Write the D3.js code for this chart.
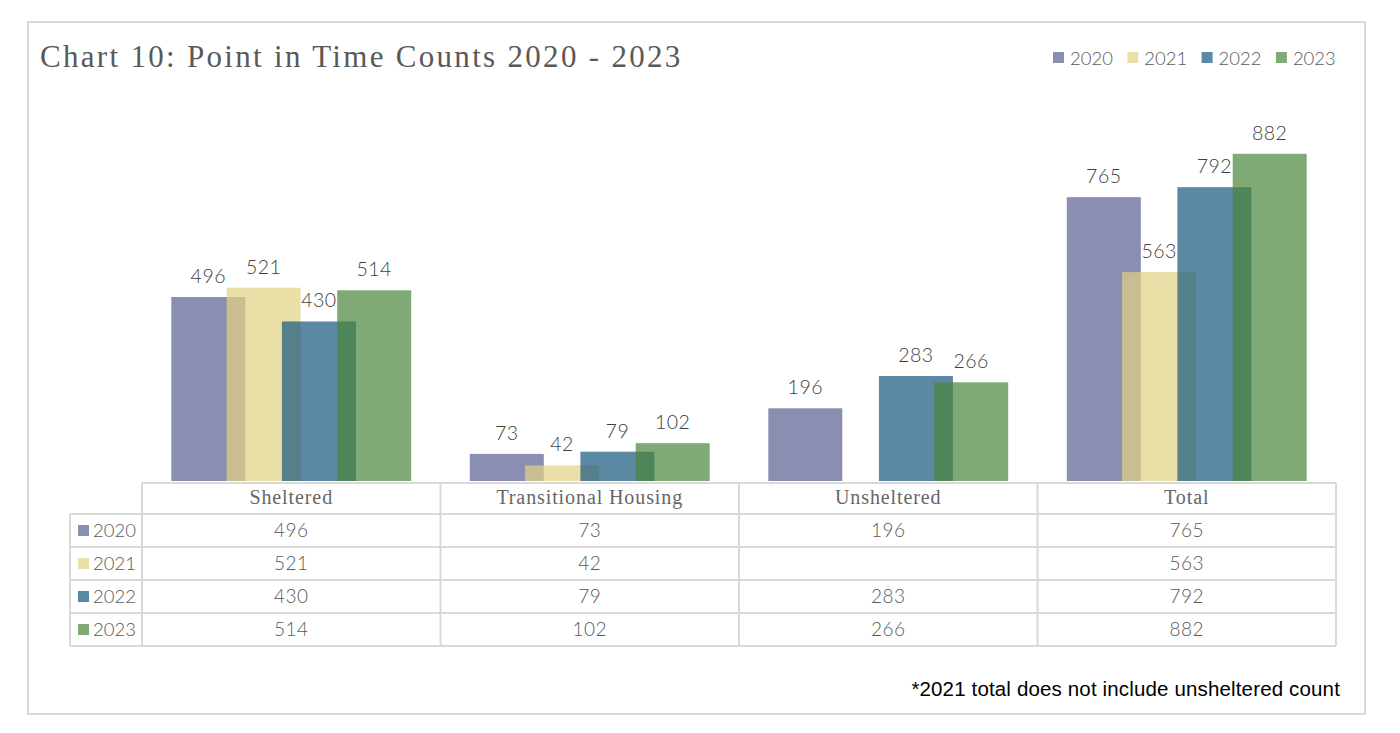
<!DOCTYPE html>
<html>
<head>
<meta charset="utf-8">
<script src="https://cdn.jsdelivr.net/npm/d3@7"></script>
<style>
  body { margin: 0; background: #fff; }
  svg { display: block; }
</style>
</head>
<body>
<div id="chart"></div>
<script>
// Point in Time Counts 2020 - 2023

const categories = ['Sheltered', 'Transitional Housing', 'Unsheltered', 'Total'];
const years = ['2020', '2021', '2022', '2023'];
const values2020 = [496, 73, 196, 765];
const values2021 = [521, 42, null, 563];
const values2022 = [430, 79, 283, 792];
const values2023 = [514, 102, 266, 882];
const yTicks = [0, 1000];

// colours before 30% transparency
const colors = ['#585f91', '#e2d183', '#15557c', '#48863a'];

const series = [values2020, values2021, values2022, values2023].map((vals, i) => ({
    year: years[i],
    color: colors[i],
    values: vals
}));

const W = 1400, H = 733;
const svg = d3.select('#chart').append('svg')
    .attr('width', W)
    .attr('height', H);

// cadre
svg.append('rect')
    .attr('x', 28).attr('y', 22)
    .attr('width', 1337).attr('height', 692)
    .attr('fill', '#fff')
    .attr('stroke', '#d9d9d9')
    .attr('stroke-width', 2);

// titre
svg.append('text')
    .attr('x', 40).attr('y', 67)
    .style('font-family', '"Liberation Serif", serif')
    .style('font-size', '31px')
    .style('letter-spacing', '2.3px')
    .style('fill', '#595959')
    .text('Chart 10: Point in Time Counts 2020 - 2023');

// échelles
const tableLeft = 142, tableRight = 1336;
const x = d3.scaleBand()
    .domain(categories)
    .range([tableLeft, tableRight])
    .paddingInner(0).paddingOuter(0);

const y = d3.scaleLinear()
    .domain(d3.extent(yTicks))
    .range([481, 110]);

const barW = 74, step = 55.3;
const xs = d3.scaleLinear()
    .domain([0, years.length - 1])
    .range([-1.5 * step, 1.5 * step]);

const numFont = 'Lato, "Open Sans", sans-serif';

// barres
series.forEach((s, i) => {
    const g = svg.append('g');
    const pts = categories.map((c, j) => ({ c, v: s.values[j] })).filter(d => d.v != null);
    g.selectAll('rect')
        .data(pts)
        .join('rect')
        .attr('x', d => x(d.c) + x.bandwidth() / 2 + xs(i) - barW / 2)
        .attr('width', barW)
        .attr('y', d => y(d.v))
        .attr('height', d => y(0) - y(d.v))
        .attr('fill', s.color)
        .attr('fill-opacity', 0.7);
});

// étiquettes
series.forEach((s, i) => {
    const pts = categories.map((c, j) => ({ c, v: s.values[j] })).filter(d => d.v != null);
    svg.append('g').selectAll('text')
        .data(pts)
        .join('text')
        .attr('x', d => x(d.c) + x.bandwidth() / 2 + xs(i))
        .attr('y', d => y(d.v) - 14)
        .attr('text-anchor', 'middle')
        .style('font-family', numFont)
        .style('font-size', '19.5px')
        .style('font-weight', 300)
        .style('letter-spacing', '0.5px')
        .style('fill', '#404040')
        .text(d => d.v);
});

// légende
const legend = svg.append('g').attr('transform', 'translate(1053,58)');
const legStep = 74.3;
years.forEach((yr, i) => {
    legend.append('rect')
        .attr('x', i * legStep).attr('y', -6)
        .attr('width', 11).attr('height', 11)
        .attr('fill', colors[i]).attr('fill-opacity', 0.7);
    legend.append('text')
        .attr('x', i * legStep + 17).attr('y', 6.5)
        .style('font-family', numFont)
        .style('font-size', '18.5px')
        .style('font-weight', 300)
        .style('fill', '#595959')
        .text(yr);
});

// tableau de données
const headTop = 483, rowH = 33;
const rowY = d3.scaleBand().domain(years).range([headTop + 31, headTop + 31 + rowH * 4]);
const grid = '#d9d9d9';
const tbl = svg.append('g');
const labelLeft = 70;

// lignes horizontales
tbl.append('line')
    .attr('x1', tableLeft).attr('x2', tableRight)
    .attr('y1', headTop).attr('y2', headTop)
    .attr('stroke', grid).attr('stroke-width', 2);
years.forEach(yr => {
    tbl.append('line')
        .attr('x1', labelLeft).attr('x2', tableRight)
        .attr('y1', rowY(yr)).attr('y2', rowY(yr))
        .attr('stroke', grid).attr('stroke-width', 2);
});
tbl.append('line')
    .attr('x1', labelLeft).attr('x2', tableRight)
    .attr('y1', rowY.range()[1]).attr('y2', rowY.range()[1])
    .attr('stroke', grid).attr('stroke-width', 2);

// lignes verticales
const vx = categories.map(c => x(c)).concat([tableRight]);
vx.forEach(v => {
    tbl.append('line')
        .attr('x1', v).attr('x2', v)
        .attr('y1', headTop).attr('y2', rowY.range()[1])
        .attr('stroke', grid).attr('stroke-width', 2);
});
tbl.append('line')
    .attr('x1', labelLeft).attr('x2', labelLeft)
    .attr('y1', rowY.range()[0]).attr('y2', rowY.range()[1])
    .attr('stroke', grid).attr('stroke-width', 2);

const cellFont = '"Liberation Serif", serif';

// en-têtes
categories.forEach(c => {
    tbl.append('text')
        .attr('x', x(c) + x.bandwidth() / 2)
        .attr('y', headTop + 21)
        .attr('text-anchor', 'middle')
        .style('font-family', cellFont)
        .style('font-size', '20px')
        .style('letter-spacing', '0.9px')
        .style('fill', '#666')
        .text(c);
});

// lignes de valeurs
series.forEach((s, i) => {
    const ry = rowY(s.year);
    tbl.append('rect')
        .attr('x', 78).attr('y', ry + 11)
        .attr('width', 11).attr('height', 11)
        .attr('fill', s.color).attr('fill-opacity', 0.7);
    tbl.append('text')
        .attr('x', 93).attr('y', ry + 23)
        .style('font-family', numFont)
        .style('font-size', '18.5px')
        .style('font-weight', 300)
        .style('fill', '#595959')
        .text(s.year);
    categories.forEach((c, j) => {
        if (s.values[j] == null) return;
        tbl.append('text')
            .attr('x', x(c) + x.bandwidth() / 2)
            .attr('y', ry + 23)
            .attr('text-anchor', 'middle')
            .style('font-family', numFont)
            .style('font-size', '19px')
            .style('font-weight', 300)
            .style('letter-spacing', '0.4px')
            .style('fill', '#595959')
            .text(s.values[j]);
    });
});

// note
svg.append('text')
    .attr('x', 1340).attr('y', 696)
    .attr('text-anchor', 'end')
    .style('font-family', '"Liberation Sans", Arial, sans-serif')
    .style('font-size', '20.5px')
    .style('letter-spacing', '0.15px')
    .style('fill', '#000')
    .text('*2021 total does not include unsheltered count');
</script>
</body>
</html>
